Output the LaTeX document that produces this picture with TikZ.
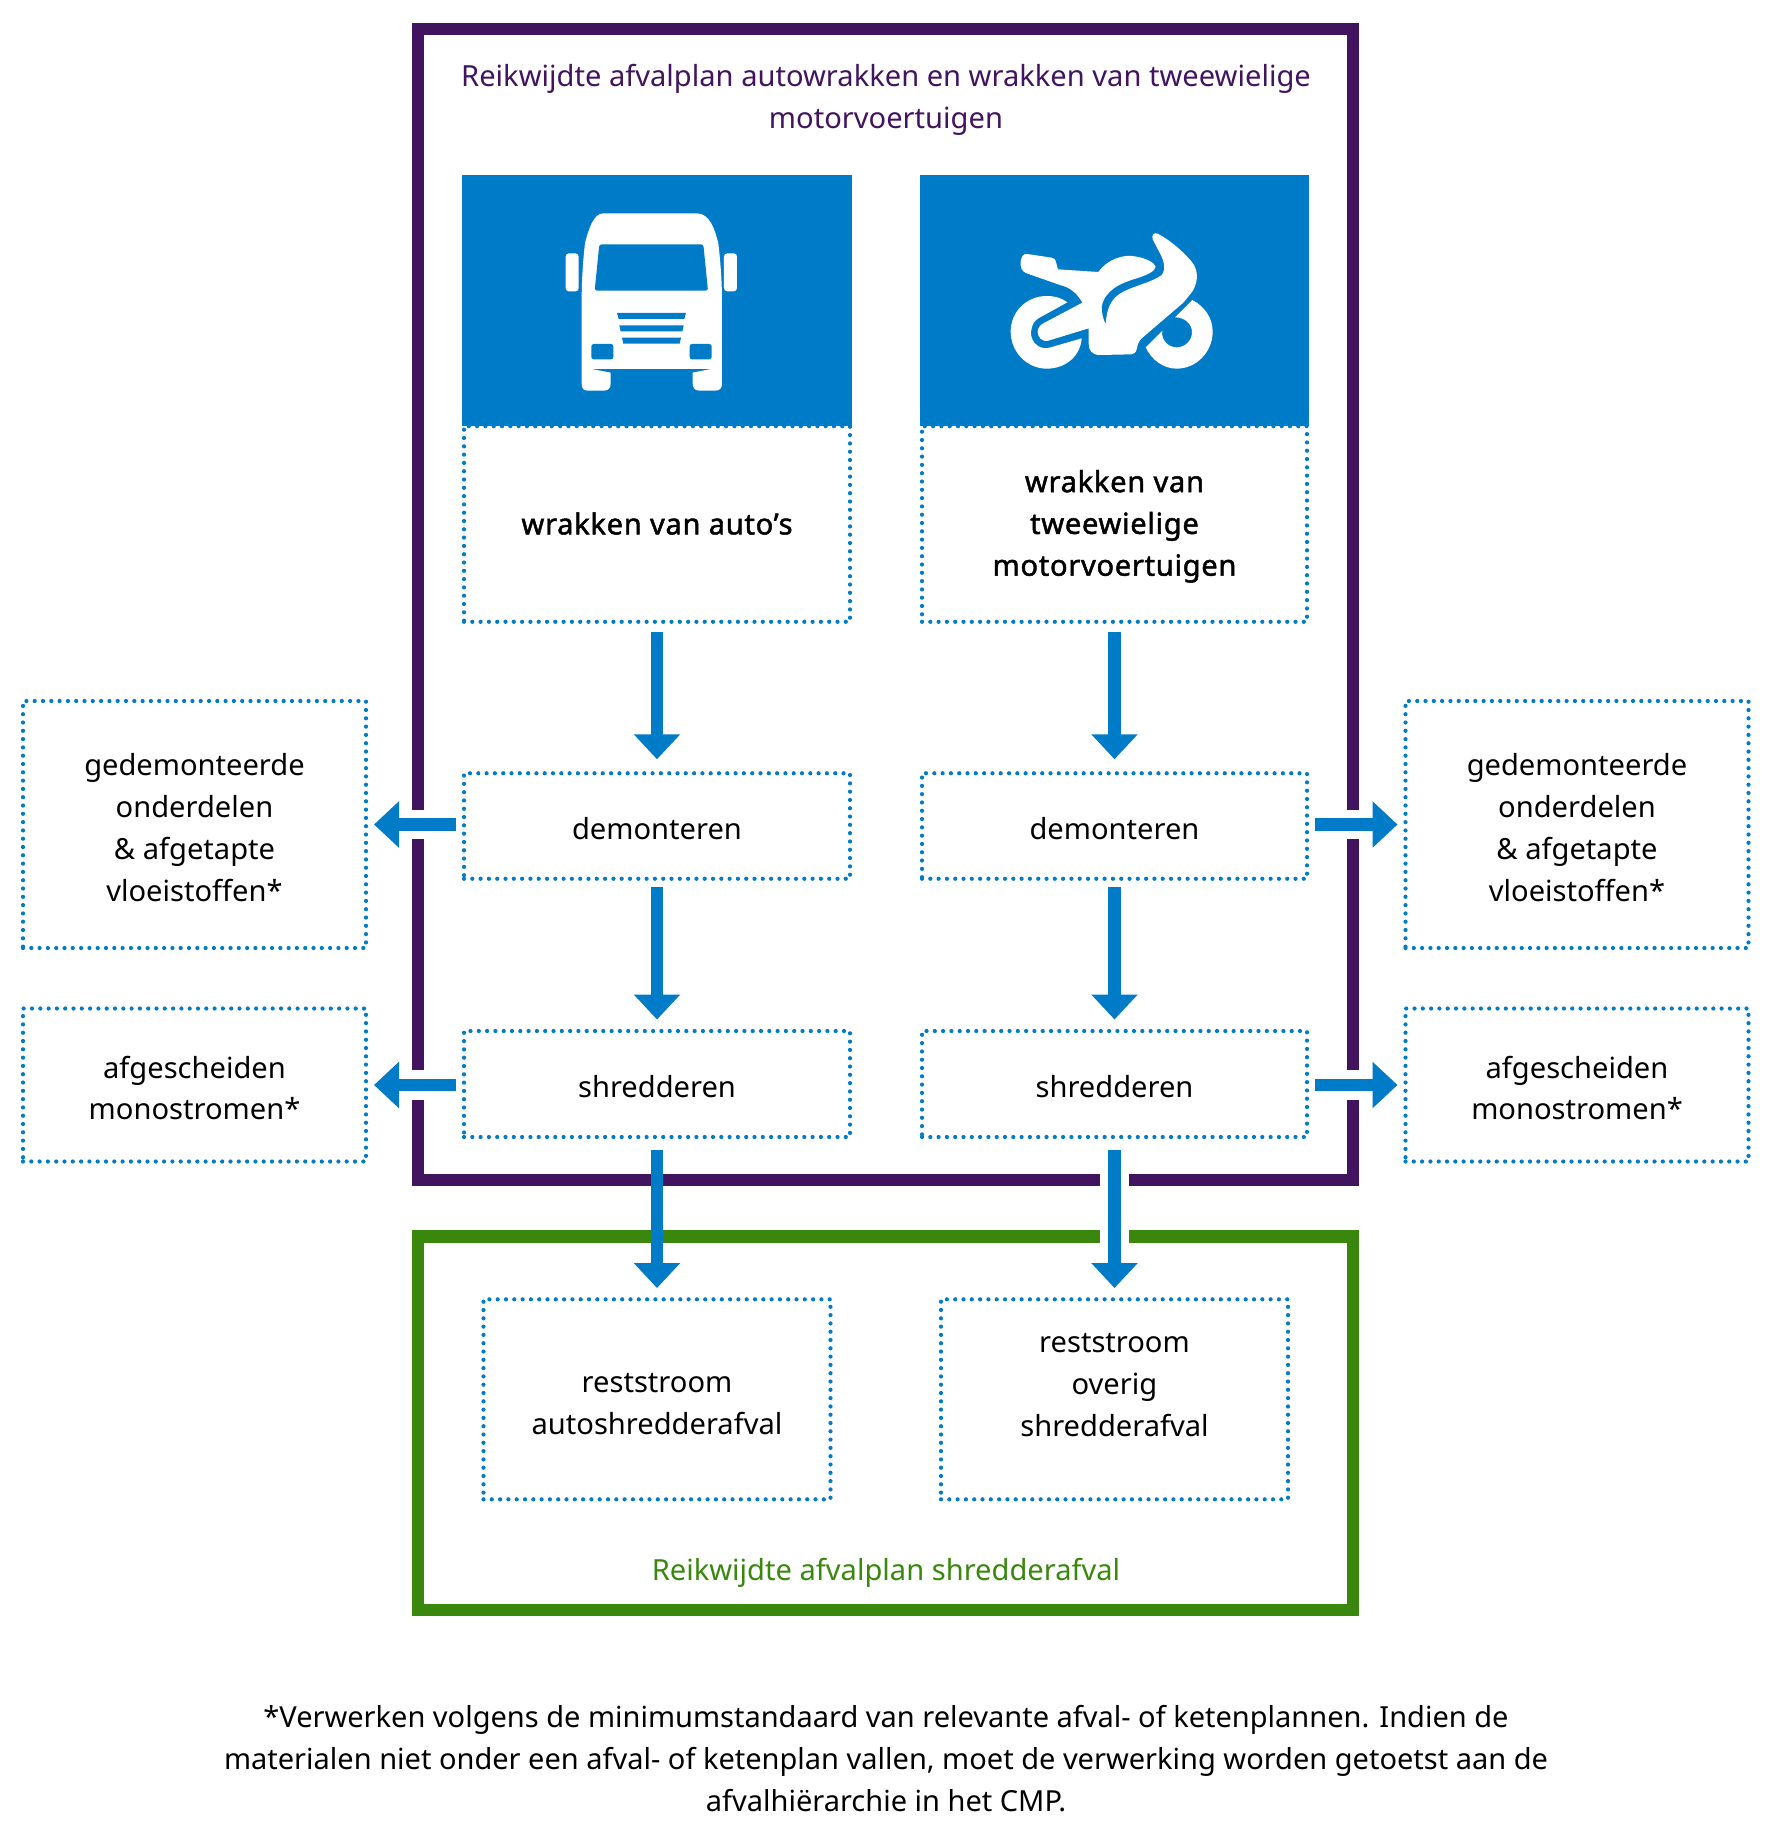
\documentclass[tikz,border=0pt]{standalone}
\usepackage{fontspec}
\setmainfont{Noto Sans}[BoldFont={Noto Sans},BoldFeatures={FakeBold=1.6,LetterSpace=2.4}]
\usetikzlibrary{arrows.meta}
\definecolor{rijkblue}{HTML}{007BC7}
\definecolor{rijkviolet}{HTML}{42145F}
\definecolor{rijkgreen}{HTML}{39870C}
\newcommand{\bodyfont}{\fontsize{14.55pt}{20.9pt}\selectfont}

\begin{document}
\begin{tikzpicture}[x=.5pt,y=-.5pt,
    dotbox/.style={draw=rijkblue,line width=2.1pt,line cap=round,dash pattern=on 0pt off 4.15pt,
      rectangle,outer sep=0pt,inner sep=0pt,align=center,text=black,font=\bodyfont,
      execute at begin node={\rule{0pt}{#1}},execute at end node={\rule[-3pt]{0pt}{3pt}}},
    dotbox/.default=16.9pt,
    kop/.style={fill=rijkblue,rectangle,outer sep=0pt,inner sep=0pt,minimum width=194.75pt,minimum height=125.65pt},
    frame/.style={draw=#1,line width=6.1pt,rectangle,outer sep=0pt,inner sep=0pt,minimum width=467.5pt},
    flow/.style={rijkblue,line width=6.3pt,-{Triangle[length=12.5pt,width=22.5pt]}},
    gap/.style={white,line width=14.8pt},
    scopetext/.style={align=center,font=\bodyfont,inner sep=0pt}]
  \useasboundingbox (0,0) rectangle (1772,1831);
  % frames
  \node[frame=rijkviolet,minimum height=575.5pt] (frameP) at (885.5,604.5) {};
  \node[frame=rijkgreen,minimum height=186.75pt] (frameG) at (885.5,1423.25) {};
  \node[scopetext,text=rijkviolet] (titleP) at (886,99.5) {Reikwijdte afvalplan autowrakken en wrakken van tweewielige\\motorvoertuigen};
  \node[scopetext,text=rijkgreen] (titleG) at (886,1572.5) {Reikwijdte afvalplan shredderafval};
  % left column
  \node[dotbox=13.4pt,minimum width=193pt,minimum height=97.8pt,font=\bodyfont\bfseries] (wrakA) at (657,524) {wrakken van auto’s};
  \node[kop] (kopA) at (657,300.65) {};
  \node[dotbox,minimum width=193pt,minimum height=52.75pt] (demA) at (657,826) {demonteren};
  \node[dotbox,minimum width=193pt,minimum height=53pt] (shredA) at (657,1084) {shredderen};
  \node[dotbox,minimum width=173.5pt,minimum height=100pt] (restA) at (657,1399.3) {\rule{0pt}{16.9pt}reststroom\\autoshredderafval};
  % right column
  \node[dotbox,minimum width=192.5pt,minimum height=97.8pt,font=\bodyfont\bfseries] (wrakB) at (1114.5,524) {\rule{0pt}{13.4pt}wrakken van\\tweewielige\\motorvoertuigen};
  \node[kop] (kopB) at (1114.5,300.65) {};
  \node[dotbox,minimum width=192.5pt,minimum height=52.75pt] (demB) at (1114.5,826) {demonteren};
  \node[dotbox,minimum width=192.5pt,minimum height=53pt] (shredB) at (1114.5,1084) {shredderen};
  \node[dotbox,minimum width=173.5pt,minimum height=100pt] (restB) at (1114.5,1399.3) {reststroom\\overig\\shredderafval\rule[-14.25pt]{0pt}{0pt}};
  % outer boxes
  \node[dotbox,minimum width=171.5pt,minimum height=123.5pt] (gedA) at (194.5,824.5) {\rule{0pt}{17pt}gedemonteerde\\onderdelen\\\& afgetapte\\vloeistoffen*};
  \node[dotbox,minimum width=171.5pt,minimum height=76.5pt] (monoA) at (194.5,1085) {\rule{0pt}{16.9pt}afgescheiden\\monostromen*};
  \node[dotbox,minimum width=171.5pt,minimum height=123.5pt] (gedB) at (1577,824.5) {\rule{0pt}{17pt}gedemonteerde\\onderdelen\\\& afgetapte\\vloeistoffen*};
  \node[dotbox,minimum width=171.5pt,minimum height=76.5pt] (monoB) at (1577,1085) {\rule{0pt}{16.9pt}afgescheiden\\monostromen*};
  % footnote
  \node[scopetext,font=\fontsize{14.5pt}{20.8pt}\selectfont] (voetnoot) at (886,1758.5) {*Verwerken volgens de minimumstandaard van relevante afval- of ketenplannen. Indien de\\materialen niet onder een afval- of ketenplan vallen, moet de verwerking worden getoetst aan de\\afvalhiërarchie in het CMP.};
  % gaps in the frames
  \path[gap]
    ([xshift=-3.5pt]frameP.west |- gedA.east) edge ([xshift=3.5pt]frameP.west |- gedA.east)
    ([xshift=-3.5pt]frameP.west |- monoA.east) edge ([xshift=3.5pt]frameP.west |- monoA.east)
    ([xshift=-3.5pt]frameP.east |- gedB.west) edge ([xshift=3.5pt]frameP.east |- gedB.west)
    ([xshift=-3.5pt]frameP.east |- monoB.west) edge ([xshift=3.5pt]frameP.east |- monoB.west)
    ([yshift=3.6pt]shredB.south |- frameP.south) edge ([yshift=-3.6pt]shredB.south |- frameP.south)
    ([yshift=3.6pt]shredB.south |- frameG.north) edge ([yshift=-3.6pt]shredB.south |- frameG.north);
  % flows
  \path[flow]
    (wrakA.south) edge[shorten <=5pt,shorten >=7pt] (demA.north)
    (wrakB.south) edge[shorten <=5pt,shorten >=7pt] (demB.north)
    (demA.south) edge[shorten <=4pt,shorten >=5.75pt] (shredA.north)
    (demB.south) edge[shorten <=4pt,shorten >=5.75pt] (shredB.north)
    (shredA.south) edge[shorten <=6.5pt,shorten >=5.65pt] (restA.north)
    (shredB.south) edge[shorten <=6.5pt,shorten >=5.65pt] (restB.north)
    (demA.west |- gedA.east) edge[shorten <=4pt,shorten >=4pt] (gedA.east)
    (shredA.west |- monoA.east) edge[shorten <=4pt,shorten >=4pt] (monoA.east)
    (demB.east |- gedB.west) edge[shorten <=4pt,shorten >=4pt] (gedB.west)
    (shredB.east |- monoB.west) edge[shorten <=4pt,shorten >=4pt] (monoB.west);
  % truck
  \begin{scope}[shift={(540,190)},x=.5pt/3,y=-.5pt/3]
    \fill[white] (190,70) -- (470,70) .. controls (510,70) and (525,120) .. (535,160)
      .. controls (542,220) and (546,280) .. (546,330) -- (546,580)
      .. controls (546,595) and (540,602) .. (525,602) -- (480,602)
      .. controls (465,602) and (458,595) .. (458,580) -- (458,548) -- (513,537) -- (155,537) -- (212,548) -- (212,580)
      .. controls (212,595) and (205,602) .. (190,602) -- (145,602)
      .. controls (130,602) and (125,595) .. (125,580) -- (125,330)
      .. controls (125,280) and (128,220) .. (135,160) .. controls (145,120) and (160,70) .. (190,70) -- cycle;
    \fill[white,rounded corners=1.6pt] (77,190) rectangle (116,304);
    \fill[white,rounded corners=1.6pt] (552,190) rectangle (591,304);
    \fill[rijkblue,rounded corners=1.2pt] (178,163) -- (490,163) -- (504,302) -- (164,302) -- cycle;
    \fill[rijkblue] (231,369) -- (438,369) -- (433,387) -- (236,387) -- cycle;
    \fill[rijkblue] (238,406) -- (431,406) -- (427,424) -- (242,424) -- cycle;
    \fill[rijkblue] (246,443) -- (423,443) -- (419,461) -- (250,461) -- cycle;
    \fill[rijkblue,rounded corners=1.2pt] (154,462) rectangle (220,508);
    \fill[rijkblue,rounded corners=1.2pt] (449,462) rectangle (515,508);
  \end{scope}
  % motorcycle
  \begin{scope}[shift={(990,210)},x=.5pt/3,y=-.5pt/3]
    \fill[white] (112,132) -- (185,143) .. controls (193,145) and (196,148) .. (197,153) -- (204,178) -- (325,186)
      .. controls (350,150) and (400,130) .. (440,140) .. controls (470,145) and (495,160) .. (497,170)
      .. controls (495,185) and (470,195) .. (440,205) .. controls (390,220) and (345,240) .. (335,290)
      .. controls (335,310) and (340,330) .. (347,342) .. controls (350,300) and (360,265) .. (400,245)
      .. controls (440,225) and (490,215) .. (515,195) .. controls (530,175) and (520,150) .. (510,130)
      -- (488,88) .. controls (484,75) and (492,66) .. (503,71)
      .. controls (540,90) and (580,125) .. (605,155) .. controls (625,180) and (625,210) .. (610,240)
      .. controls (600,255) and (590,265) .. (580,278) -- (455,385)
      .. controls (445,395) and (443,405) .. (440,418) .. controls (437,428) and (432,432) .. (425,433)
      -- (330,435) .. controls (305,435) and (296,420) .. (296,400) -- (296,355) -- (175,392)
      .. controls (155,397) and (143,380) .. (143,365) .. controls (143,355) and (150,345) .. (160,340)
      -- (277,278) .. controls (262,250) and (240,232) .. (210,225) -- (110,190)
      .. controls (95,185) and (90,170) .. (92,155) .. controls (94,140) and (100,130) .. (112,132) -- cycle;
    \fill[white] (232,277) .. controls (215,264) and (195,258) .. (170,258)
      .. controls (110,258) and (62,305) .. (62,365) .. controls (62,425) and (110,476) .. (170,476)
      .. controls (230,476) and (272,435) .. (275,385) -- (175,414)
      .. controls (140,420) and (115,385) .. (125,355) .. controls (128,340) and (135,332) .. (145,325) -- cycle;
    \fill[white] (607,270) .. controls (645,290) and (668,325) .. (668,365)
      .. controls (668,425) and (620,476) .. (560,476) .. controls (520,476) and (485,450) .. (467,412)
      -- (517,362) .. controls (512,390) and (535,412) .. (560,412)
      .. controls (585,412) and (606,392) .. (606,367) .. controls (606,342) and (585,322) .. (555,322) -- cycle;
  \end{scope}
\end{tikzpicture}
\end{document}
